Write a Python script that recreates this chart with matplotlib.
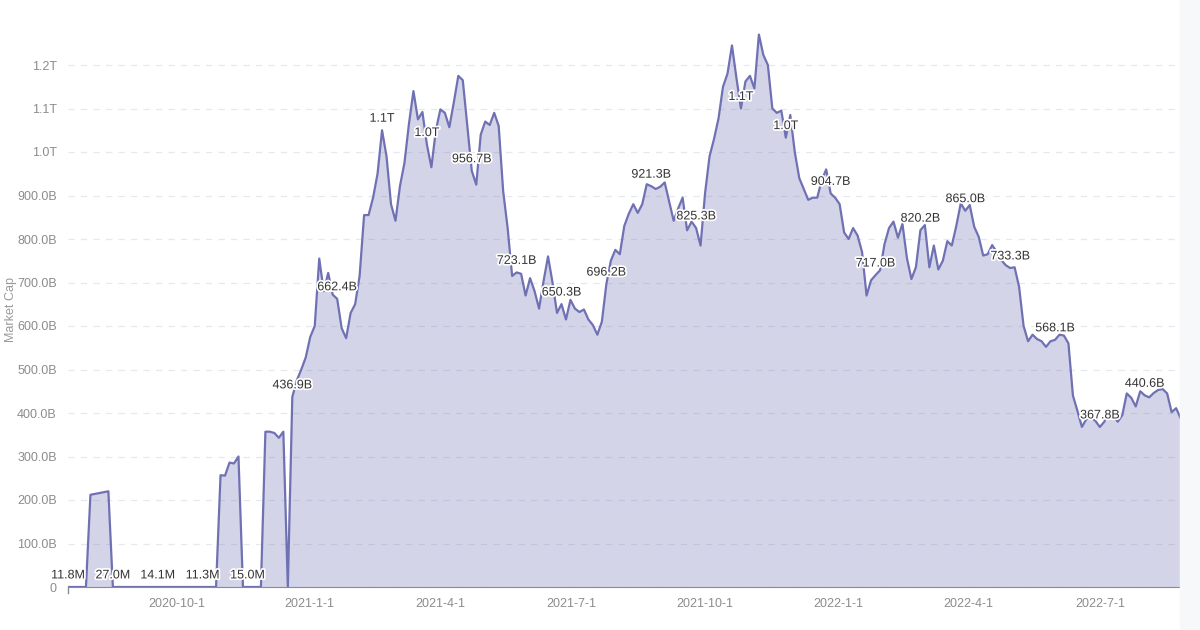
import matplotlib
matplotlib.use('Agg')
from matplotlib import pyplot as plt
from matplotlib import patheffects as pe
from matplotlib.ticker import FuncFormatter
import numpy as np
import pandas as pd

plt.rcParams['font.family'] = ['Liberation Sans', 'DejaVu Sans']

# market cap in billions, one reading every 3.1 days from 2020-07-18
mcap_b = [
    0.0118, 0.012, 0.013, 0.011, 0.012, 212, 214, 216, 218, 220,
    0.027, 0.02, 0.018, 0.016, 0.015, 0.015, 0.014, 0.014, 0.013, 0.014,
    0.0141, 0.013, 0.012, 0.012, 0.013, 0.012, 0.011, 0.012, 0.011, 0.012,
    0.0113, 0.011, 0.012, 0.012, 257, 256, 286, 284, 300, 0.013,
    0.015, 0.015, 0.016, 0.016, 357, 357, 354, 343, 357, 0.02,
    436.9, 475, 500, 528, 575, 600, 755, 680, 722, 672,
    662.4, 595, 572, 630, 650, 715, 855, 855, 895, 950,
    1050, 990, 880, 842, 922, 975, 1065, 1140, 1075, 1092,
    1017, 965, 1050, 1098, 1090, 1057, 1114, 1175, 1165, 1060,
    956.7, 925, 1040, 1070, 1062, 1090, 1060, 910, 825, 715,
    723.1, 720, 670, 710, 680, 640, 703, 760, 700, 630,
    650.3, 615, 660, 640, 632, 638, 615, 602, 580, 610,
    696.2, 750, 775, 765, 830, 858, 880, 860, 880, 926,
    921.3, 915, 920, 930, 886, 842, 870, 895, 820, 840,
    825.3, 785, 905, 990, 1030, 1077, 1150, 1180, 1245, 1170,
    1100, 1162, 1175, 1146, 1270, 1223, 1200, 1100, 1090, 1095,
    1033, 1085, 1000, 940, 915, 890, 895, 895, 935, 960,
    904.7, 895, 880, 815, 800, 825, 808, 770, 670, 705,
    717.0, 728, 788, 825, 840, 803, 835, 756, 708, 735,
    820.2, 832, 735, 785, 730, 750, 795, 785, 830, 882,
    865.0, 878, 828, 805, 762, 765, 786, 770, 752, 740,
    733.3, 735, 690, 600, 565, 580, 570, 565, 552, 565,
    568.1, 580, 578, 560, 440, 405, 368, 386, 390, 382,
    367.8, 380, 408, 392, 380, 395, 445, 435, 415, 450,
    440.6, 436, 446, 453, 455, 445, 402, 411, 388,
]
dates = pd.date_range('2020-07-18', periods=len(mcap_b), freq='74h24min')
label_every = 10

xtick_labels = ['2020-10-1', '2021-1-1', '2021-4-1', '2021-7-1',
                '2021-10-1', '2022-1-1', '2022-4-1', '2022-7-1']
ytick_vals = list(range(0, 1300, 100))


def fmt(v):
    if v == 0:
        return '0'
    if v >= 1000:
        return f'{v / 1000:.1f}T'
    if v >= 1:
        return f'{v:.1f}B'
    return f'{v * 1000:.1f}M'


line_c = '#6f71b3'
fig = plt.figure(figsize=(12, 6.3), dpi=100)
fig.patches.append(plt.Rectangle((1180 / 1200, 0), 20 / 1200, 1, transform=fig.transFigure,
                                 color='#f7f8fa', zorder=0))
ax = fig.add_axes([68 / 1200, 43 / 630, 1112.6 / 1200, 565.5 / 630])

ax.fill_between(dates, mcap_b, 0, color=line_c, alpha=0.3, linewidth=0)
ax.plot(dates, mcap_b, color=line_c, linewidth=1.6)

for i in range(0, len(mcap_b), label_every):
    ax.annotate(fmt(mcap_b[i]), (dates[i], mcap_b[i]), xytext=(0, 4),
                textcoords='offset points', ha='center', va='bottom',
                fontsize=9, color='#333333', zorder=5,
                path_effects=[pe.withStroke(linewidth=2.5, foreground='white')])

ax.set_xlim(dates[0], dates[-1])
ax.set_ylim(0, 1300)
ax.set_yticks(ytick_vals)
ax.yaxis.set_major_formatter(FuncFormatter(lambda v, p: fmt(v)))
ax.set_xticks(pd.to_datetime(xtick_labels))
ax.set_xticklabels(xtick_labels)
ax.tick_params(axis='both', length=0, labelsize=9, colors='#8c8c8c')
ax.tick_params(axis='y', pad=8)
ax.tick_params(axis='x', pad=8)
ax.grid(axis='y', color='#e6e8ee', linestyle=(0, (5, 5)), linewidth=0.9)
ax.set_axisbelow(True)
for s in ['top', 'right', 'left']:
    ax.spines[s].set_visible(False)
ax.spines['bottom'].set_color('#8c8c8c')
ax.plot([dates[0], dates[0]], [0, -0.01], transform=ax.get_xaxis_transform(),
        color='#8c8c8c', linewidth=1, clip_on=False)
fig.text(11 / 1200, 1 - 309 / 630, 'Market Cap', rotation=90, ha='center', va='center',
         fontsize=9, color='#9a9a9a')

plt.savefig('out.png', dpi=100)
plt.close()
